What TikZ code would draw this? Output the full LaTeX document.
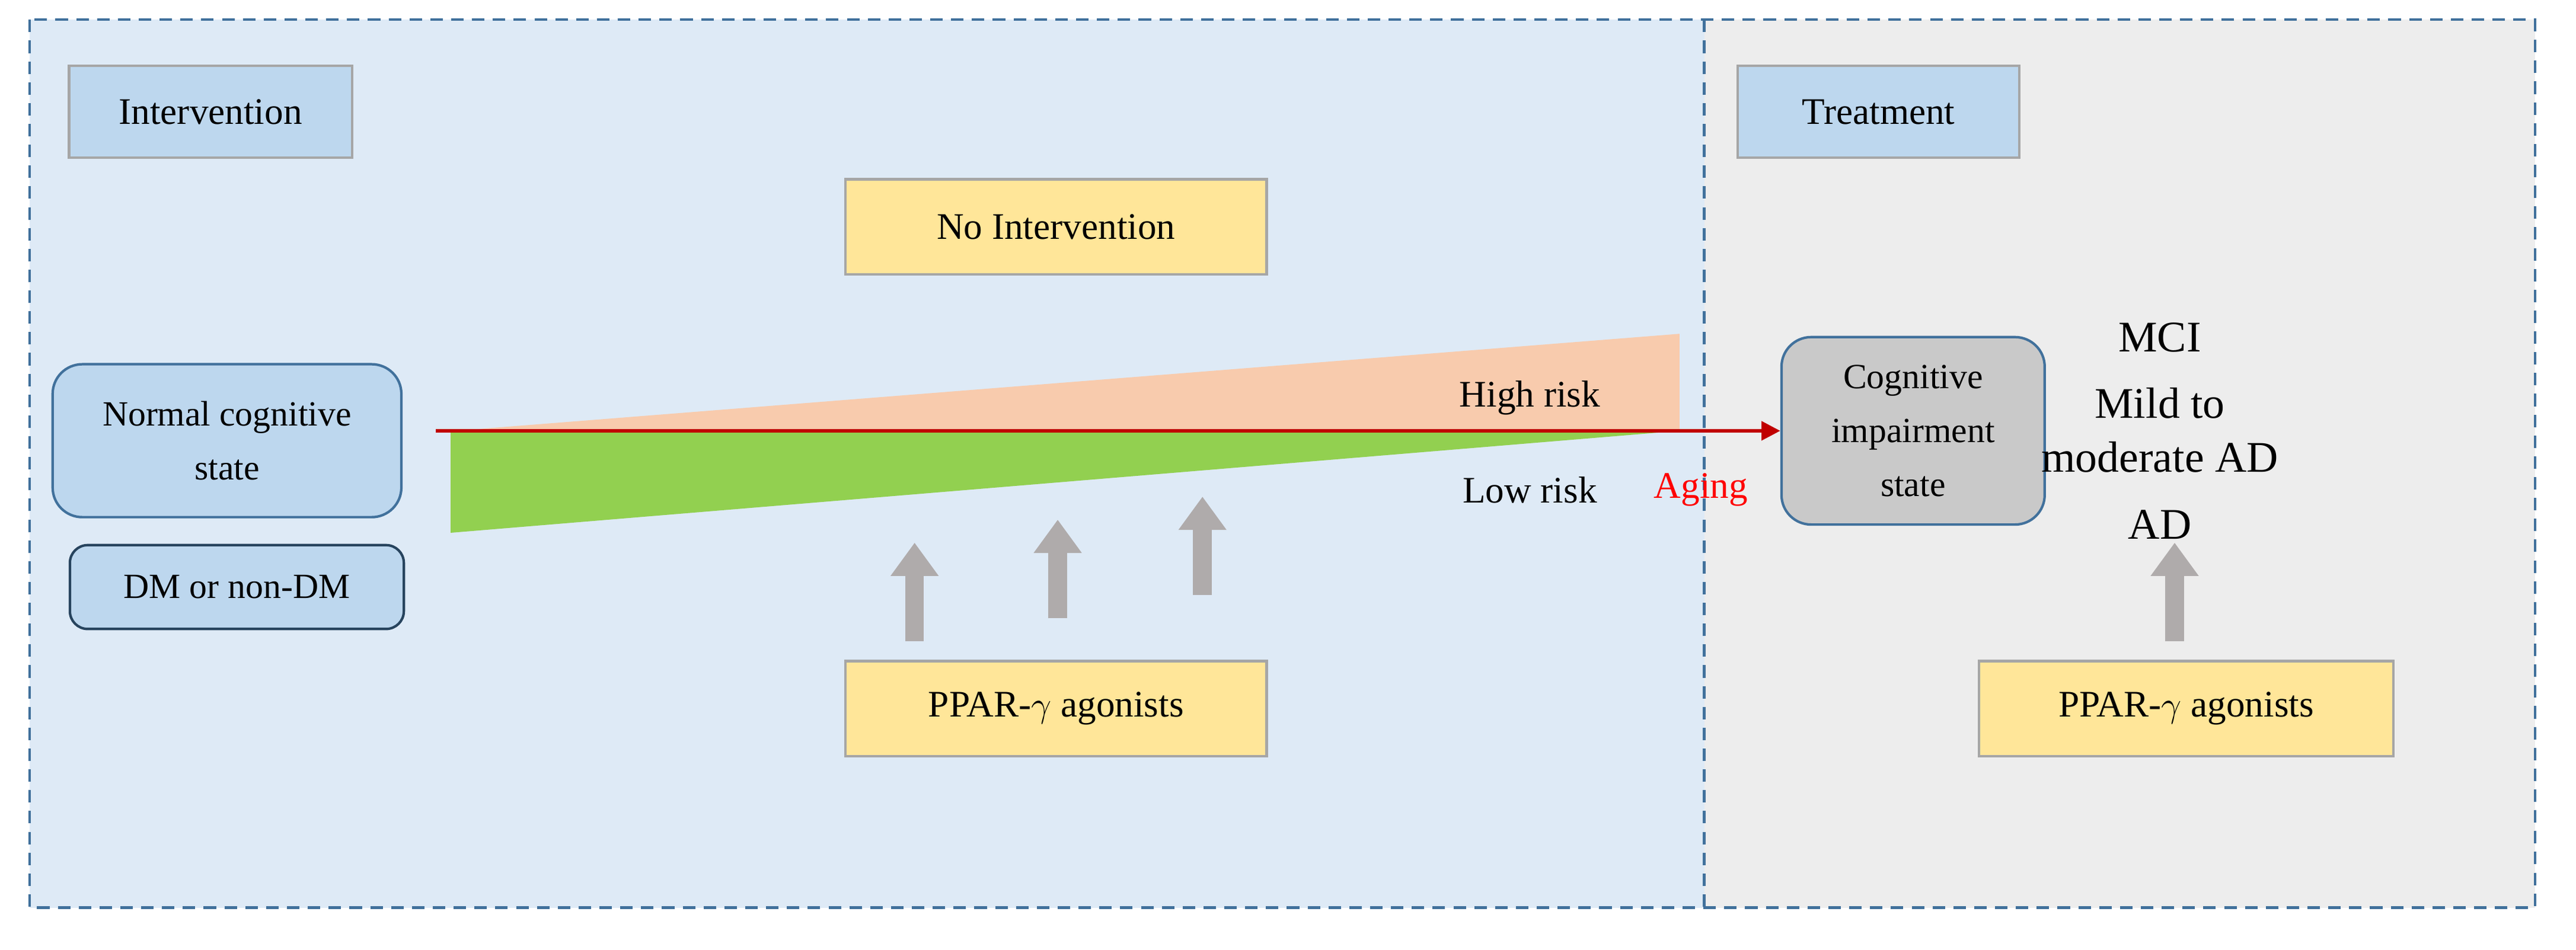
\documentclass[tikz,border=0pt]{standalone}
\usepackage{fontspec}
\setmainfont{Liberation Serif}
\usetikzlibrary{arrows.meta}
\definecolor{bgblue}{HTML}{DEEAF6}
\definecolor{bggray}{HTML}{EDEDED}
\definecolor{dashb}{HTML}{41719C}
\definecolor{lblue}{HTML}{BDD7EE}
\definecolor{lyel}{HTML}{FFE699}
\definecolor{gborder}{HTML}{A6A6A6}
\definecolor{orng}{HTML}{F8CBAD}
\definecolor{grn}{HTML}{92D050}
\definecolor{darr}{HTML}{C00000}
\definecolor{garr}{HTML}{AFABAB}
\definecolor{cgray}{HTML}{C9C9C9}
\tikzset{
  lab/.style={draw=gborder,line width=1.2pt,fill=lblue,minimum height=56*0.02775cm,font=\fontsize{18}{21}\selectfont},
  ybox/.style={draw=gborder,line width=1.2pt,fill=lyel,minimum width=256*0.02775cm,minimum height=58*0.02775cm,font=\fontsize{18}{21}\selectfont},
  rbox/.style={draw=dashb,line width=1.2pt,rounded corners=0.5cm,align=center,font=\fontsize{17}{26}\selectfont},
  up/.style={-{Triangle[width=22pt,length=16pt]},line width=9pt,draw=garr},
  txt/.style={font=\fontsize{18}{21}\selectfont}
}
\begin{document}
\begin{tikzpicture}[x=0.02775cm,y=-0.02775cm]
\useasboundingbox (0,0) rectangle (1566,577.7);
\fill[white] (0,0) rectangle (1566,577.7);
\fill[bgblue] (18,12) rectangle (1036,552);
\fill[bggray] (1036,12) rectangle (1541,552);
\draw[dashb,dashed,line width=1.2pt,dash pattern=on 6pt off 4pt] (18,12) rectangle (1541,552);
\draw[dashb,dashed,line width=1.2pt,dash pattern=on 6pt off 4pt] (1036,12) -- (1036,552);
\node[lab,minimum width=172*0.02775cm] (int) at (128,68) {Intervention};
\node[lab,minimum width=171*0.02775cm] (trt) at (1142,68) {Treatment};
\node[ybox] (noint) at (642,138) {No Intervention};
\node[rbox,fill=lblue,minimum width=212*0.02775cm,minimum height=93*0.02775cm] (ncs) at (138,268) {Normal cognitive\\state};
\node[rbox,draw=dashb!60!black,rounded corners=0.3cm,fill=lblue,minimum width=203*0.02775cm,minimum height=51*0.02775cm,font=\fontsize{17}{20}\selectfont] (dm) at (144,357) {DM or non-DM};
\fill[orng] (277,262) -- (1021,203) -- (1021,262) -- cycle;
\fill[grn] (274,262) -- (1021,262) -- (274,324) -- cycle;
\node[rbox,fill=cgray,minimum width=160*0.02775cm,minimum height=114*0.02775cm] (cis) at (1163,262) {Cognitive\\impairment\\state};
\coordinate (a0) at (265,262);
\draw[darr,line width=1.6pt,-{Triangle[width=9pt,length=9pt]}] (a0) -- (cis.west);
\node[txt] (hr) at (930,242) {High risk};
\node[txt] (lr) at (930,298) {Low risk};
\node[txt,text=red] (ag) at (1034,298) {Aging};
\node[font=\fontsize{21}{38}\selectfont,align=center] (stages) at (1313,262) {MCI\\[-6pt]Mild to\\[-12pt]moderate AD\\[-6pt]AD};
\node[ybox] (p1) at (642,431) {PPAR-$\gamma$ agonists};
\node[ybox,minimum width=252*0.02775cm] (p2) at (1329,431) {PPAR-$\gamma$ agonists};
\coordinate (u1) at (556,390); \coordinate (v1) at (556,330);
\coordinate (u2) at (643,376); \coordinate (v2) at (643,316);
\coordinate (u3) at (731,362); \coordinate (v3) at (731,302);
\coordinate (u4) at (1322,390); \coordinate (v4) at (1322,330);
\draw[up] (u1) -- (v1);
\draw[up] (u2) -- (v2);
\draw[up] (u3) -- (v3);
\draw[up] (u4) -- (v4);
\end{tikzpicture}
\end{document}
